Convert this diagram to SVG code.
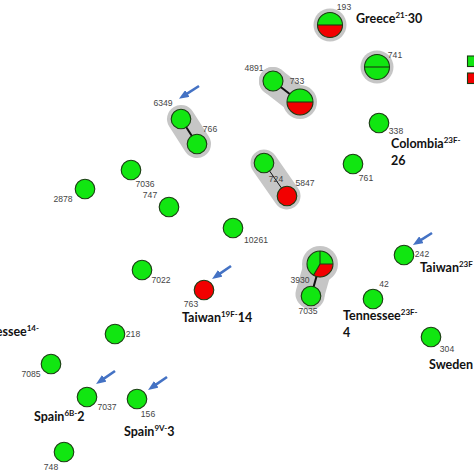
<svg xmlns="http://www.w3.org/2000/svg" width="474" height="474" viewBox="0 0 474 474">
<style>
.bg{fill:#ffffff}
.halo{fill:#c6c6c6}
.haloL{stroke:#c6c6c6;stroke-linecap:round;fill:none}
.g{fill:#11e611;stroke:#1a3a12;stroke-width:1.1}
.r{fill:#f20000;stroke:#1a3a12;stroke-width:1.1}
.gf{fill:#11e611}
.rf{fill:#f20000}
.ol{fill:none;stroke:#1a3a12;stroke-width:1.1}
.sep{stroke:#1a3a12;stroke-width:1.1;fill:none}
.num{font-family:"Liberation Sans",Arial,sans-serif;font-size:8.6px;fill:#454545;text-anchor:middle}
.lab{font-family:Lato,"Open Sans",sans-serif;font-weight:bold;font-size:12.5px;fill:#111111}
.sup{font-size:8px}
.edge{stroke:#111111;stroke-width:2;fill:none}
.edgeT{stroke:#111111;stroke-width:1;fill:none}
.arr{stroke:#4472c4;stroke-width:2.6;fill:none;marker-end:url(#ah)}
</style>
<defs>
<marker id="ah" viewBox="0 0 10 8" markerWidth="10" markerHeight="8" markerUnits="userSpaceOnUse" refX="4" refY="4" orient="auto">
<path d="M0,0 L10,4 L0,8 Z" fill="#4472c4"/>
</marker>
</defs>
<rect class="bg" x="0" y="0" width="474" height="474"/>

<g id="halos">
<circle class="halo" cx="330" cy="25" r="16.5"/>
<circle class="halo" cx="377" cy="67" r="16.5"/>
<line class="haloL" x1="181" y1="119" x2="197" y2="144" stroke-width="28"/>
<circle class="halo" cx="273" cy="81" r="14"/>
<circle class="halo" cx="300" cy="102" r="17"/>
<line class="haloL" x1="273" y1="81" x2="300" y2="102" stroke-width="28"/>
<line class="haloL" x1="264" y1="163" x2="287" y2="196" stroke-width="27"/>
<circle class="halo" cx="320" cy="264" r="18"/>
<circle class="halo" cx="311" cy="296" r="13.5"/>
<line class="haloL" x1="318" y1="266" x2="310" y2="294" stroke-width="29"/>
</g>

<g id="connectors">
<line class="edge" x1="181" y1="119" x2="197" y2="144"/>
<line class="edge" x1="273" y1="81" x2="300" y2="102"/>
<line class="edgeT" x1="264" y1="163" x2="287" y2="196"/>
<line class="edge" x1="320" y1="264" x2="311" y2="296"/>
</g>

<g id="arrows">
<line class="arr" x1="199" y1="86" x2="184" y2="95.6"/>
<line class="arr" x1="231" y1="266" x2="217" y2="275.6"/>
<line class="arr" x1="115" y1="371" x2="101" y2="380.6"/>
<line class="arr" x1="167" y1="377" x2="153" y2="386.6"/>
<line class="arr" x1="432" y1="233" x2="418" y2="241.8"/>
</g>

<g id="n193">
<path class="gf" d="M317.5,25 A12.5,12.5 0 0 1 342.5,25 Z"/>
<path class="rf" d="M317.5,25 A12.5,12.5 0 0 0 342.5,25 Z"/>
<line class="sep" x1="317.5" y1="25" x2="342.5" y2="25"/>
<circle class="ol" cx="330" cy="25" r="12.5"/>
<text class="num" x="344" y="10">193</text>
</g>
<g id="n741">
<circle class="g" cx="377" cy="67" r="12.5"/>
<line class="sep" x1="364.5" y1="67" x2="389.5" y2="67"/>
<text class="num" x="395" y="58">741</text>
</g>
<g id="n4891">
<circle class="g" cx="273" cy="81" r="10"/>
<text class="num" x="254" y="71">4891</text>
</g>
<g id="n733">
<path class="gf" d="M287,102 A13,13 0 0 1 313,102 Z"/>
<path class="rf" d="M287,102 A13,13 0 0 0 313,102 Z"/>
<line class="sep" x1="287" y1="102" x2="313" y2="102"/>
<circle class="ol" cx="300" cy="102" r="13"/>
<text class="num" x="297" y="84">733</text>
</g>
<g id="n6349">
<circle class="g" cx="181" cy="119" r="9.8"/>
<text class="num" x="163" y="106">6349</text>
</g>
<g id="n766">
<circle class="g" cx="197" cy="144" r="9.8"/>
<text class="num" x="210" y="132">766</text>
</g>
<g id="n338">
<circle class="g" cx="379" cy="123" r="9.8"/>
<text class="num" x="396" y="134">338</text>
</g>
<g id="n761">
<circle class="g" cx="353" cy="164" r="9.8"/>
<text class="num" x="366" y="181">761</text>
</g>
<g id="n724">
<circle class="g" cx="264" cy="163" r="9.8"/>
<text class="num" x="276" y="182">724</text>
</g>
<g id="n5847">
<circle class="r" cx="287" cy="196" r="9.8"/>
<text class="num" x="305" y="186">5847</text>
</g>
<g id="n7036">
<circle class="g" cx="131" cy="170" r="9.8"/>
<text class="num" x="145" y="187">7036</text>
</g>
<g id="n2878">
<circle class="g" cx="85" cy="189" r="9.8"/>
<text class="num" x="63" y="202">2878</text>
</g>
<g id="n747">
<circle class="g" cx="169" cy="207" r="9.8"/>
<text class="num" x="150" y="198">747</text>
</g>
<g id="n10261">
<circle class="g" cx="233" cy="228" r="9.8"/>
<text class="num" x="256" y="243">10261</text>
</g>
<g id="n7022">
<circle class="g" cx="142" cy="270" r="9.8"/>
<text class="num" x="161" y="283">7022</text>
</g>
<g id="n763">
<circle class="r" cx="204" cy="290" r="9.8"/>
<text class="num" x="191" y="307">763</text>
</g>
<g id="n218">
<circle class="g" cx="115" cy="334" r="9.8"/>
<text class="num" x="133" y="337">218</text>
</g>
<g id="n7085">
<circle class="g" cx="51" cy="364" r="9.8"/>
<text class="num" x="31" y="377">7085</text>
</g>
<g id="n7037">
<circle class="g" cx="87" cy="397" r="9.8"/>
<text class="num" x="107" y="410">7037</text>
</g>
<g id="n156">
<circle class="g" cx="137" cy="399" r="9.8"/>
<text class="num" x="148" y="417">156</text>
</g>
<g id="n748">
<circle class="g" cx="64" cy="452" r="9.8"/>
<text class="num" x="51" y="470">748</text>
</g>
<g id="n3930">
<path class="gf" d="M320,264 L313.5,275.26 A13,13 0 0 1 320,251 Z"/>
<path class="gf" d="M320,264 L320,251 A13,13 0 0 1 333,264 Z"/>
<path class="rf" d="M320,264 L333,264 A13,13 0 0 1 313.5,275.26 Z"/>
<path class="sep" d="M320,251 L320,264 L333,264 M320,264 L313.5,275.26"/>
<circle class="ol" cx="320" cy="264" r="13"/>
<text class="num" x="300" y="283">3930</text>
</g>
<g id="n7035">
<circle class="g" cx="311" cy="296" r="9.8"/>
<text class="num" x="308" y="314">7035</text>
</g>
<g id="n242">
<circle class="g" cx="404" cy="255" r="9.8"/>
<text class="num" x="422" y="257">242</text>
</g>
<g id="n42">
<circle class="g" cx="373" cy="299" r="9.8"/>
<text class="num" x="384" y="287">42</text>
</g>
<g id="n304">
<circle class="g" cx="431" cy="337" r="9.8"/>
<text class="num" x="447" y="352">304</text>
</g>

<g id="legend">
<rect class="g" x="467.5" y="56" width="11" height="10.5"/>
<rect class="r" x="467.5" y="73" width="11" height="10.5"/>
</g>

<g id="labels">
<text class="lab" x="356" y="23">Greece<tspan class="sup" dy="-5">21-</tspan><tspan dy="5">30</tspan></text>
<text class="lab" x="391" y="148">Colombia<tspan class="sup" dy="-5">23F-</tspan></text>
<text class="lab" x="391" y="165">26</text>
<text class="lab" x="182" y="322">Taiwan<tspan class="sup" dy="-5">19F-</tspan><tspan dy="5">14</tspan></text>
<text class="lab" x="39" y="336" text-anchor="end">Tennessee<tspan class="sup" dy="-5">14-</tspan></text>
<text class="lab" x="34" y="421">Spain<tspan class="sup" dy="-5">6B-</tspan><tspan dy="5">2</tspan></text>
<text class="lab" x="124" y="436">Spain<tspan class="sup" dy="-5">9V-</tspan><tspan dy="5">3</tspan></text>
<text class="lab" x="420" y="272">Taiwan<tspan class="sup" dy="-5">23F</tspan></text>
<text class="lab" x="343" y="320">Tennessee<tspan class="sup" dy="-5">23F-</tspan></text>
<text class="lab" x="343" y="337">4</text>
<text class="lab" x="429" y="369">Sweden</text>
</g>
</svg>
